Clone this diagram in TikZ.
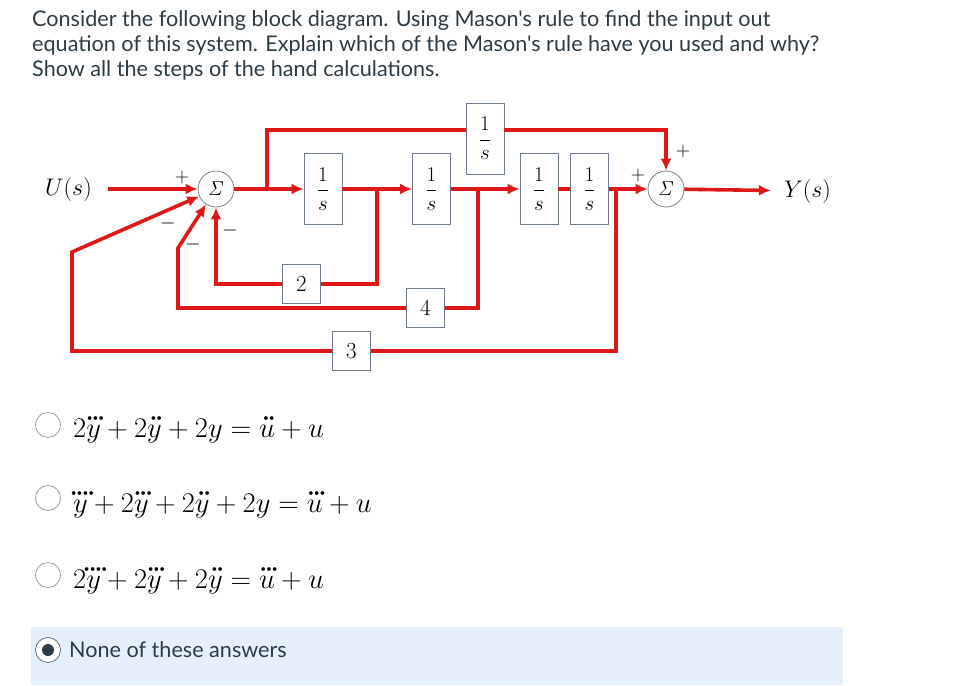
\RequirePackage{fix-cm}
\documentclass[tikz,border=0pt]{standalone}
\usepackage{amsmath}
\usepackage[no-math]{fontspec}
\newfontfamily\lato{Lato}
\usetikzlibrary{arrows.meta}
\definecolor{wirered}{RGB}{222,24,24}
\definecolor{boxgray}{RGB}{110,124,142}
\definecolor{canvastext}{RGB}{45,59,69}
\definecolor{pickblue}{RGB}{230,240,250}
\definecolor{radiogray}{RGB}{150,150,150}
% dots over a symbol, as many as given
\newcommand{\dotacc}[2]{\mathord{\overset{\makebox[0pt]{\raisebox{-6pt}{\kern4pt\lato\fontsize{10}{10}\selectfont #1}}}{#2}}}

\begin{document}
\begin{tikzpicture}[x=1pt, y=-1pt,
  wire/.style={wirered, line width=3.6pt},
  flow/.style={wire, -{Latex[length=12pt,width=11pt]}},
  intbox/.style={draw=boxgray, line width=0.8pt, fill=white, minimum width=38pt, minimum height=71pt, inner sep=0pt, font=\fontsize{21}{21}\selectfont},
  gainbox/.style={draw=boxgray, line width=0.8pt, fill=white, minimum width=38pt, minimum height=39pt, inner sep=0pt, font=\fontsize{23}{23}\selectfont},
  sumnode/.style={circle, draw=gray, line width=0.8pt, fill=white, minimum size=36pt, inner sep=0pt, font=\fontsize{20}{20}\selectfont},
  sign/.style={inner sep=0pt, font=\fontsize{20}{20}\selectfont},
  label/.style={inner sep=0pt, font=\fontsize{24}{24}\selectfont},
  question/.style={anchor=base west, inner sep=0pt, text=canvastext, font=\lato\fontsize{21.6}{21.6}\selectfont},
  choice/.style={anchor=base west, inner sep=0pt, font=\fontsize{28.5}{28.5}\selectfont},
  radio/.style={circle, draw=radiogray, line width=0.7pt, fill=white, minimum size=25pt, inner sep=0pt}]
\useasboundingbox (0,0) rectangle (968,685);
\fill[pickblue] (31,627) rectangle (843,685);

% question
\node[question] (qOne) at (32,27) {Consider the following block diagram. Using Mason's rule to find the input out};
\node[question] (qTwo) at (32,52) {equation of this system. Explain which of the Mason's rule have you used and why?};
\node[question] (qThree) at (32,77) {Show all the steps of the hand calculations.};

% blocks
\node[label] (inU) at (68.5,189) {$U(s)$};
\node[sumnode] (sumin) at (216,189) {$\mathit{\Sigma}$};
\node[intbox] (intA) at (323,189) {$\dfrac{1}{s}$};
\node[intbox] (intB) at (431.5,189) {$\dfrac{1}{s}$};
\node[intbox] (intTop) at (485,138.5) {$\dfrac{1}{s}$};
\node[intbox] (intC) at (539,189) {$\dfrac{1}{s}$};
\node[intbox] (intD) at (589.5,189) {$\dfrac{1}{s}$};
\node[sumnode] (sumout) at (666,189) {$\mathit{\Sigma}$};
\node[label] (outY) at (807.5,191) {$Y(s)$};
\node[gainbox] (gainTwo) at (301.5,284) {$2$};
\node[gainbox] (gainFour) at (425.5,308) {$4$};
\node[gainbox] (gainThree) at (351.5,351) {$3$};

% signs
\node[sign] (plusIn) at (182,177) {$+$};
\node[sign] (minusThree) at (168,223) {$-$};
\node[sign] (minusFour) at (193,244) {$-$};
\node[sign] (minusTwo) at (230,230) {$-$};
\node[sign] (plusFwd) at (638,175) {$+$};
\node[sign] (plusTop) at (683,151) {$+$};

% taps and knees
\coordinate (tapTop) at (267,189);
\coordinate (tapTwo) at (377,189);
\coordinate (tapFour) at (478,189);
\coordinate (tapThree) at (616,189);
\coordinate (topLeft) at (267,130);
\coordinate (topRight) at (666,130);
\coordinate (kneeFour) at (178,248);
\coordinate (kneeThree) at (72,252);

% forward path
\draw[flow, shorten <=16pt] (inU) -- (sumin);
\draw[flow] (sumin) -- (intA);
\draw[flow] (intA) -- (intB);
\draw[flow] (intB) -- (intC);
\draw[wire] (intC) -- (intD);
\draw[flow] (intD) -- (sumout);
\draw[flow, shorten >=13pt] (sumout) -- (outY);
\draw[wire] (tapTop) -- (topLeft) -- (topLeft -| intTop.west);
\draw[flow] (topLeft -| intTop.east) -- (topRight) -- (sumout);

% feedback
\draw[wire] (tapTwo) |- (gainTwo);
\draw[flow] (gainTwo) -| (sumin);
\draw[wire] (tapFour) |- (gainFour);
\draw[flow] (gainFour) -| (kneeFour) -- (sumin);
\draw[wire] (tapThree) |- (gainThree);
\draw[flow] (gainThree) -| (kneeThree) -- (sumin);

% answers
\node[radio] (optA) at (48,425) {};
\node[choice] (eqA) at (73,437) {$2\dotacc{•••}{y}+2\dotacc{••}{y}+2y=\dotacc{••}{u}+u$};
\node[radio] (optB) at (48,498) {};
\node[choice] (eqB) at (73,512) {$\dotacc{••••}{y}+2\dotacc{•••}{y}+2\dotacc{••}{y}+2y=\dotacc{•••}{u}+u$};
\node[radio] (optC) at (48,575) {};
\node[choice] (eqC) at (73,588) {$2\dotacc{••••}{y}+2\dotacc{•••}{y}+2\dotacc{••}{y}=\dotacc{•••}{u}+u$};
\node[radio, draw=canvastext!80] (optD) at (48,650) {};
\node[circle, fill=canvastext, minimum size=12pt, inner sep=0pt] (optDdot) at (optD) {};
\node[question] (optDtext) at (69,657) {None of these answers};
\end{tikzpicture}
\end{document}
